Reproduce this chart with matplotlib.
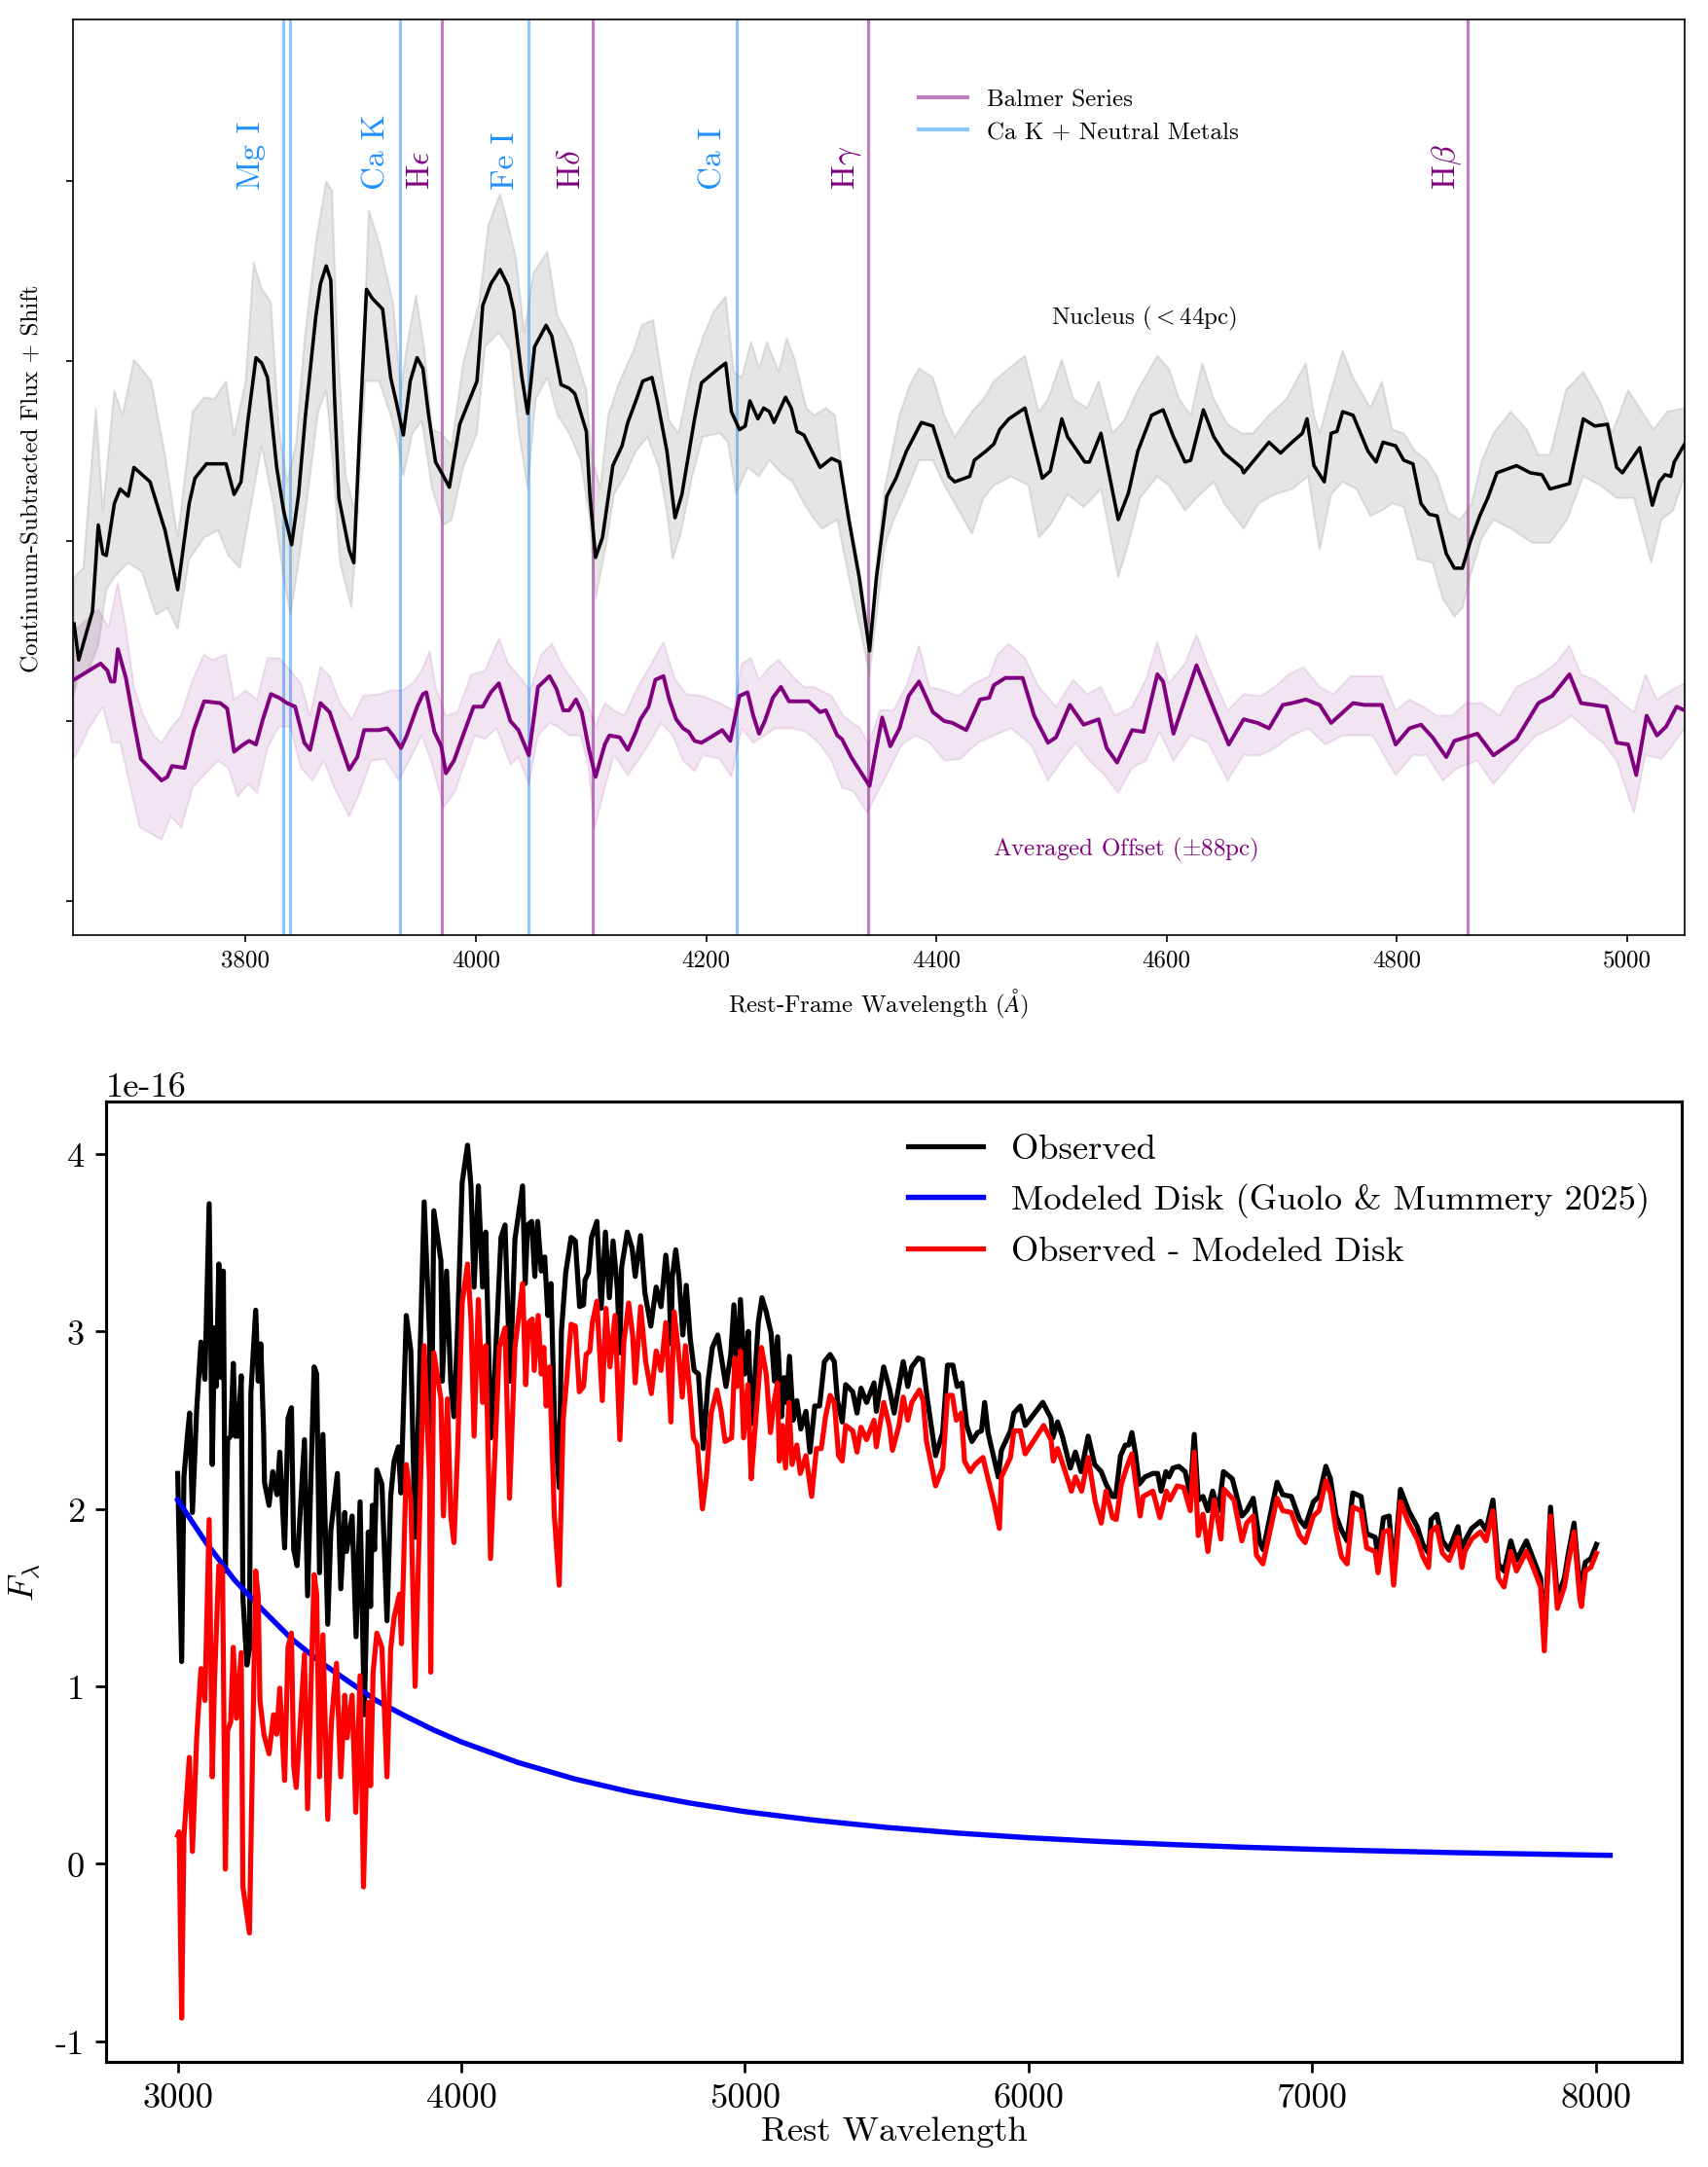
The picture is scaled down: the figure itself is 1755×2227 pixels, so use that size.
import numpy as np
import matplotlib
matplotlib.use("Agg")
import matplotlib.pyplot as plt
from matplotlib.lines import Line2D
from matplotlib.ticker import MultipleLocator

plt.rcParams["font.family"] = ["cmr10", "DejaVu Serif"]
plt.rcParams["mathtext.fontset"] = "cm"
plt.rcParams["axes.unicode_minus"] = False
plt.rcParams["axes.formatter.use_mathtext"] = False

# ---------------- top panel: stacked continuum-subtracted spectra ----------------
# (wavelength [A], flux + shift) -- arbitrary units, shift already applied
NUC_MEAN = [
    (3651, 1.54), (3655, 1.34), (3667, 1.61), (3672, 2.09), (3676, 1.93), (3679, 1.92),
    (3686, 2.21), (3691, 2.29), (3698, 2.25), (3703, 2.41), (3717, 2.33), (3730, 2.06),
    (3741, 1.73), (3751, 2.21), (3756, 2.35), (3766, 2.43), (3783, 2.43), (3790, 2.26),
    (3796, 2.33), (3802, 2.67), (3809, 3.02), (3814, 2.99), (3819, 2.91), (3827, 2.41),
    (3833, 2.17), (3840, 1.98), (3846, 2.26), (3852, 2.70), (3861, 3.25), (3865, 3.43),
    (3870, 3.53), (3874, 3.45), (3877, 2.84), (3881, 2.24), (3890, 1.95), (3894, 1.88),
    (3899, 2.60), (3905, 3.40), (3910, 3.35), (3919, 3.29), (3926, 2.91), (3931, 2.77),
    (3937, 2.59), (3943, 2.89), (3949, 3.02), (3954, 2.96), (3959, 2.70), (3965, 2.44),
    (3972, 2.36), (3977, 2.30), (3986, 2.65), (4001, 2.89), (4006, 3.31), (4013, 3.43),
    (4021, 3.51), (4028, 3.42), (4033, 3.28), (4040, 2.91), (4045, 2.71), (4051, 3.08),
    (4061, 3.20), (4066, 3.14), (4074, 2.87), (4081, 2.85), (4086, 2.82), (4096, 2.61),
    (4099, 2.26), (4104, 1.91), (4110, 2.02), (4119, 2.42), (4127, 2.53), (4132, 2.66),
    (4139, 2.78), (4145, 2.89), (4153, 2.91), (4158, 2.77), (4166, 2.50), (4173, 2.13),
    (4179, 2.26), (4190, 2.68), (4196, 2.88), (4209, 2.95), (4217, 2.99), (4222, 2.72),
    (4229, 2.62), (4234, 2.64), (4238, 2.78), (4245, 2.68), (4250, 2.74), (4255, 2.72),
    (4259, 2.66), (4269, 2.80), (4274, 2.74), (4279, 2.61), (4285, 2.59), (4299, 2.41),
    (4309, 2.46), (4316, 2.44), (4324, 2.12), (4333, 1.80), (4342, 1.39), (4348, 1.80),
    (4357, 2.25), (4365, 2.35), (4374, 2.50), (4387, 2.66), (4397, 2.64), (4411, 2.36),
    (4416, 2.33), (4429, 2.36), (4433, 2.45), (4443, 2.50), (4450, 2.54), (4455, 2.62),
    (4463, 2.68), (4477, 2.74), (4492, 2.35), (4499, 2.39), (4509, 2.68), (4514, 2.58),
    (4529, 2.44), (4533, 2.44), (4543, 2.60), (4558, 2.12), (4567, 2.27), (4575, 2.50),
    (4587, 2.70), (4597, 2.73), (4606, 2.58), (4616, 2.44), (4621, 2.45), (4632, 2.73),
    (4641, 2.58), (4650, 2.49), (4665, 2.41), (4667, 2.38), (4680, 2.48), (4689, 2.55),
    (4699, 2.49), (4709, 2.55), (4718, 2.60), (4722, 2.68), (4728, 2.42), (4737, 2.33),
    (4743, 2.60), (4748, 2.61), (4753, 2.72), (4762, 2.70), (4775, 2.50), (4782, 2.44),
    (4788, 2.55), (4799, 2.53), (4806, 2.45), (4814, 2.43), (4821, 2.21), (4828, 2.15),
    (4835, 2.14), (4843, 1.93), (4850, 1.85), (4857, 1.85), (4864, 2.00), (4872, 2.14),
    (4879, 2.24), (4887, 2.38), (4904, 2.42), (4916, 2.38), (4926, 2.37), (4933, 2.29),
    (4950, 2.32), (4962, 2.68), (4972, 2.64), (4983, 2.65), (4991, 2.41), (4996, 2.38),
    (5011, 2.52), (5022, 2.20), (5028, 2.33), (5033, 2.37), (5038, 2.36), (5041, 2.44),
    (5050, 2.54),
]
NUC_HI = [
    (3651, 1.80), (3659, 1.85), (3670, 2.74), (3676, 2.17), (3686, 2.84), (3693, 2.70),
    (3703, 3.01), (3718, 2.89), (3730, 2.48), (3741, 2.02), (3754, 2.72), (3764, 2.80),
    (3773, 2.79), (3783, 2.89), (3790, 2.59), (3800, 2.89), (3807, 3.55), (3814, 3.40),
    (3822, 3.33), (3829, 2.62), (3836, 2.33), (3844, 2.55), (3851, 3.11), (3861, 3.66),
    (3870, 4.00), (3875, 3.95), (3880, 3.08), (3887, 2.36), (3897, 2.12), (3907, 3.84),
    (3916, 3.66), (3928, 3.33), (3935, 2.84), (3940, 3.08), (3948, 3.37), (3955, 3.08),
    (3962, 2.62), (3970, 2.60), (3979, 2.53), (3989, 2.99), (4003, 3.33), (4011, 3.76),
    (4021, 3.93), (4028, 3.76), (4035, 3.57), (4042, 3.16), (4050, 3.49), (4062, 3.61),
    (4071, 3.25), (4083, 3.11), (4096, 2.84), (4100, 2.50), (4108, 2.29), (4115, 2.70),
    (4125, 2.89), (4137, 3.06), (4144, 3.20), (4154, 3.23), (4161, 2.94), (4168, 2.67),
    (4176, 2.60), (4188, 2.96), (4197, 3.13), (4207, 3.28), (4217, 3.36), (4224, 2.94),
    (4231, 2.91), (4239, 3.11), (4246, 2.96), (4253, 3.11), (4263, 2.94), (4270, 3.13),
    (4277, 3.01), (4287, 2.74), (4294, 2.70), (4304, 2.74), (4312, 2.70), (4321, 2.26),
    (4331, 1.92), (4338, 1.63), (4343, 1.54), (4348, 1.87), (4355, 2.29), (4368, 2.70),
    (4377, 2.87), (4385, 2.96), (4397, 2.91), (4407, 2.70), (4416, 2.58), (4431, 2.72),
    (4441, 2.79), (4450, 2.89), (4463, 2.96), (4477, 3.03), (4489, 2.72), (4497, 2.79),
    (4509, 3.01), (4519, 2.79), (4531, 2.74), (4541, 2.89), (4553, 2.60), (4563, 2.67),
    (4575, 2.84), (4592, 3.03), (4602, 2.96), (4611, 2.79), (4621, 2.70), (4631, 2.99),
    (4641, 2.79), (4653, 2.65), (4665, 2.60), (4675, 2.60), (4689, 2.70), (4704, 2.79),
    (4721, 2.99), (4728, 2.70), (4733, 2.60), (4743, 2.84), (4753, 3.06), (4762, 2.91),
    (4777, 2.74), (4787, 2.89), (4796, 2.62), (4806, 2.60), (4816, 2.50), (4826, 2.45),
    (4835, 2.36), (4845, 2.16), (4855, 2.12), (4865, 2.21), (4874, 2.45), (4884, 2.60),
    (4899, 2.72), (4913, 2.62), (4923, 2.48), (4933, 2.48), (4947, 2.84), (4962, 2.94),
    (4977, 2.77), (4987, 2.60), (5001, 2.84), (5013, 2.72), (5023, 2.62), (5035, 2.72),
    (5050, 2.74),
]
NUC_LO = [
    (3651, 1.15), (3655, 1.25), (3664, 1.29), (3672, 1.42), (3679, 1.73), (3686, 1.80),
    (3698, 1.88), (3710, 1.83), (3722, 1.59), (3732, 1.63), (3741, 1.51), (3751, 1.90),
    (3764, 2.02), (3776, 2.06), (3785, 1.92), (3795, 1.85), (3805, 2.21), (3814, 2.53),
    (3824, 2.21), (3833, 1.80), (3839, 1.59), (3846, 1.88), (3853, 2.21), (3863, 2.72),
    (3870, 2.84), (3876, 2.41), (3882, 1.88), (3892, 1.63), (3897, 2.12), (3904, 2.89),
    (3916, 2.89), (3926, 2.70), (3932, 2.55), (3937, 2.36), (3945, 2.60), (3953, 2.67),
    (3962, 2.29), (3972, 2.09), (3979, 2.12), (3989, 2.41), (4001, 2.60), (4008, 3.08),
    (4020, 3.16), (4030, 3.06), (4037, 2.62), (4045, 2.29), (4052, 2.79), (4062, 2.91),
    (4071, 2.70), (4081, 2.60), (4091, 2.45), (4099, 2.12), (4104, 1.68), (4113, 1.97),
    (4120, 2.26), (4129, 2.36), (4139, 2.50), (4149, 2.58), (4159, 2.41), (4166, 2.16),
    (4171, 1.90), (4178, 2.04), (4188, 2.36), (4197, 2.58), (4212, 2.60), (4219, 2.55),
    (4226, 2.26), (4236, 2.41), (4246, 2.36), (4255, 2.45), (4265, 2.38), (4275, 2.33),
    (4285, 2.21), (4294, 2.12), (4301, 2.07), (4314, 2.12), (4324, 1.80), (4334, 1.51),
    (4342, 1.25), (4348, 1.59), (4355, 1.97), (4363, 2.12), (4373, 2.26), (4385, 2.45),
    (4397, 2.45), (4407, 2.31), (4416, 2.21), (4431, 2.04), (4441, 2.24), (4450, 2.31),
    (4465, 2.36), (4480, 2.31), (4489, 2.02), (4499, 2.09), (4514, 2.26), (4528, 2.19),
    (4543, 2.29), (4558, 1.80), (4567, 1.99), (4577, 2.24), (4592, 2.36), (4602, 2.31),
    (4616, 2.17), (4626, 2.24), (4641, 2.33), (4650, 2.21), (4667, 2.07), (4680, 2.21),
    (4694, 2.26), (4709, 2.29), (4723, 2.36), (4733, 1.95), (4743, 2.26), (4753, 2.33),
    (4765, 2.29), (4777, 2.14), (4787, 2.17), (4796, 2.21), (4806, 2.19), (4818, 1.90),
    (4831, 1.88), (4840, 1.68), (4850, 1.58), (4857, 1.63), (4865, 1.83), (4874, 2.02),
    (4884, 2.12), (4899, 2.07), (4918, 1.99), (4933, 1.99), (4948, 2.12), (4962, 2.36),
    (4977, 2.31), (4991, 2.24), (5006, 2.24), (5021, 1.88), (5030, 2.12), (5040, 2.17),
    (5050, 2.36),
]
OFF_MEAN = [
    (3651, 1.23), (3674, 1.32), (3680, 1.28), (3683, 1.22), (3686, 1.22), (3689, 1.40),
    (3696, 1.24), (3703, 0.99), (3709, 0.79), (3718, 0.73), (3727, 0.67), (3732, 0.69),
    (3736, 0.75), (3747, 0.74), (3755, 0.95), (3764, 1.11), (3778, 1.10), (3784, 1.07),
    (3790, 0.83), (3798, 0.87), (3803, 0.89), (3809, 0.87), (3815, 1.01), (3822, 1.15),
    (3829, 1.13), (3836, 1.10), (3843, 1.08), (3851, 0.88), (3856, 0.84), (3865, 1.10),
    (3873, 1.05), (3890, 0.73), (3897, 0.80), (3903, 0.95), (3916, 0.95), (3923, 0.96),
    (3928, 0.92), (3935, 0.85), (3940, 0.92), (3949, 1.08), (3954, 1.15), (3957, 1.16),
    (3964, 0.94), (3970, 0.86), (3974, 0.71), (3981, 0.78), (3986, 0.87), (3994, 1.01),
    (3998, 1.08), (4006, 1.08), (4013, 1.16), (4020, 1.21), (4030, 1.00), (4037, 0.95),
    (4046, 0.81), (4054, 1.19), (4064, 1.25), (4070, 1.18), (4076, 1.06), (4081, 1.06),
    (4087, 1.12), (4092, 1.05), (4098, 0.85), (4104, 0.69), (4112, 0.87), (4116, 0.92),
    (4125, 0.91), (4132, 0.84), (4139, 0.94), (4143, 1.01), (4150, 1.08), (4156, 1.23),
    (4163, 1.25), (4168, 1.12), (4174, 1.01), (4180, 0.96), (4185, 0.94), (4190, 0.89),
    (4196, 0.88), (4204, 0.91), (4214, 0.95), (4221, 0.89), (4229, 1.14), (4236, 1.16),
    (4241, 1.03), (4246, 0.93), (4251, 1.00), (4258, 1.13), (4265, 1.19), (4272, 1.11),
    (4282, 1.11), (4289, 1.11), (4299, 1.05), (4304, 1.06), (4314, 0.92), (4318, 0.90),
    (4326, 0.80), (4337, 0.69), (4342, 0.64), (4348, 0.85), (4353, 1.02), (4360, 0.86),
    (4368, 0.96), (4376, 1.14), (4385, 1.22), (4397, 1.05), (4407, 1.00), (4414, 0.99),
    (4426, 0.95), (4438, 1.12), (4446, 1.13), (4450, 1.20), (4460, 1.24), (4475, 1.24),
    (4485, 1.03), (4497, 0.88), (4504, 0.91), (4516, 1.09), (4528, 0.98), (4541, 1.01),
    (4548, 0.85), (4557, 0.77), (4570, 0.95), (4580, 0.94), (4592, 1.26), (4597, 1.22),
    (4606, 0.93), (4626, 1.31), (4641, 1.07), (4654, 0.87), (4667, 1.01), (4679, 0.99),
    (4689, 0.96), (4701, 1.09), (4709, 1.10), (4721, 1.12), (4733, 1.09), (4743, 0.99),
    (4762, 1.10), (4772, 1.09), (4787, 1.09), (4799, 0.87), (4811, 0.96), (4821, 0.98),
    (4831, 0.91), (4843, 0.80), (4850, 0.89), (4870, 0.93), (4884, 0.81), (4904, 0.90),
    (4923, 1.10), (4935, 1.14), (4950, 1.26), (4960, 1.10), (4982, 1.08), (4991, 0.88),
    (5001, 0.87), (5008, 0.70), (5017, 1.03), (5026, 0.92), (5034, 0.97), (5043, 1.08),
    (5050, 1.06),
]
OFF_HI = [
    (3651, 1.50), (3672, 1.62), (3681, 1.52), (3689, 1.77), (3696, 1.52), (3703, 1.19),
    (3710, 1.05), (3720, 0.92), (3727, 0.88), (3735, 0.96), (3744, 1.03), (3754, 1.23),
    (3764, 1.37), (3771, 1.34), (3783, 1.37), (3790, 1.12), (3800, 1.17), (3810, 1.12),
    (3819, 1.35), (3829, 1.35), (3839, 1.28), (3848, 1.21), (3856, 1.03), (3865, 1.30),
    (3873, 1.25), (3882, 1.10), (3892, 1.01), (3902, 1.14), (3916, 1.15), (3926, 1.17),
    (3936, 1.17), (3945, 1.21), (3953, 1.28), (3960, 1.39), (3965, 1.19), (3974, 1.03),
    (3984, 1.05), (3996, 1.26), (4008, 1.28), (4020, 1.46), (4028, 1.32), (4040, 1.23),
    (4047, 1.17), (4057, 1.37), (4066, 1.43), (4076, 1.30), (4086, 1.21), (4096, 1.12),
    (4104, 0.97), (4112, 1.10), (4120, 1.06), (4129, 1.03), (4139, 1.17), (4149, 1.28),
    (4163, 1.44), (4173, 1.23), (4183, 1.15), (4197, 1.14), (4212, 1.10), (4224, 1.06),
    (4231, 1.32), (4239, 1.35), (4246, 1.23), (4255, 1.30), (4263, 1.34), (4275, 1.25),
    (4285, 1.19), (4294, 1.19), (4309, 1.14), (4319, 1.03), (4334, 0.96), (4341, 0.87),
    (4351, 1.06), (4363, 1.06), (4375, 1.21), (4385, 1.42), (4394, 1.19), (4407, 1.17),
    (4419, 1.14), (4433, 1.21), (4446, 1.25), (4453, 1.37), (4463, 1.43), (4477, 1.35),
    (4489, 1.19), (4504, 1.08), (4519, 1.23), (4531, 1.15), (4543, 1.19), (4555, 1.03),
    (4570, 1.08), (4582, 1.23), (4592, 1.44), (4602, 1.21), (4616, 1.32), (4626, 1.48),
    (4638, 1.28), (4653, 1.06), (4667, 1.15), (4682, 1.14), (4694, 1.19), (4706, 1.26),
    (4719, 1.30), (4733, 1.19), (4745, 1.15), (4760, 1.25), (4772, 1.25), (4787, 1.25),
    (4799, 1.06), (4811, 1.12), (4823, 1.08), (4835, 1.03), (4848, 1.03), (4860, 1.10),
    (4874, 1.10), (4889, 1.03), (4904, 1.19), (4923, 1.25), (4938, 1.32), (4950, 1.42),
    (4960, 1.26), (4972, 1.23), (4984, 1.17), (4996, 1.10), (5006, 1.05), (5016, 1.26),
    (5026, 1.12), (5038, 1.17), (5050, 1.21),
]
OFF_LO = [
    (3651, 0.79), (3664, 0.96), (3676, 1.08), (3684, 0.88), (3691, 0.88), (3701, 0.60),
    (3708, 0.41), (3727, 0.34), (3735, 0.47), (3744, 0.41), (3754, 0.63), (3764, 0.70),
    (3776, 0.78), (3785, 0.74), (3793, 0.58), (3802, 0.65), (3810, 0.60), (3819, 0.85),
    (3829, 0.97), (3839, 0.97), (3848, 0.74), (3858, 0.67), (3868, 0.78), (3877, 0.63),
    (3890, 0.47), (3899, 0.60), (3909, 0.78), (3921, 0.79), (3933, 0.67), (3943, 0.79),
    (3953, 0.92), (3962, 0.76), (3972, 0.52), (3982, 0.61), (3989, 0.74), (3999, 0.92),
    (4008, 0.90), (4018, 0.96), (4030, 0.76), (4037, 0.80), (4046, 0.65), (4054, 0.92),
    (4064, 0.99), (4071, 0.97), (4081, 0.92), (4091, 0.92), (4098, 0.74), (4103, 0.40),
    (4112, 0.63), (4120, 0.81), (4132, 0.70), (4142, 0.79), (4151, 0.88), (4161, 0.99),
    (4171, 0.92), (4180, 0.78), (4190, 0.72), (4197, 0.81), (4212, 0.79), (4222, 0.69),
    (4231, 0.96), (4241, 0.88), (4251, 0.92), (4260, 0.96), (4275, 0.96), (4287, 0.94),
    (4299, 0.87), (4309, 0.78), (4318, 0.63), (4328, 0.61), (4340, 0.49), (4351, 0.63),
    (4360, 0.74), (4370, 0.87), (4382, 0.92), (4394, 0.88), (4407, 0.78), (4421, 0.79),
    (4436, 0.88), (4450, 0.92), (4465, 0.96), (4482, 0.87), (4497, 0.67), (4509, 0.78),
    (4521, 0.88), (4533, 0.78), (4546, 0.70), (4558, 0.60), (4570, 0.74), (4582, 0.78),
    (4594, 0.94), (4606, 0.78), (4621, 0.92), (4636, 0.88), (4653, 0.67), (4667, 0.81),
    (4682, 0.81), (4694, 0.85), (4709, 0.92), (4723, 0.96), (4738, 0.87), (4753, 0.92),
    (4765, 0.92), (4779, 0.92), (4799, 0.70), (4814, 0.81), (4826, 0.81), (4840, 0.67),
    (4853, 0.74), (4870, 0.78), (4884, 0.65), (4901, 0.78), (4921, 0.92), (4938, 0.97),
    (4952, 1.03), (4967, 0.94), (4979, 0.88), (4991, 0.78), (5006, 0.49), (5016, 0.81),
    (5030, 0.79), (5040, 0.87), (5050, 0.96),
]

BALMER_LINES = [(r"H$\epsilon$", 3970.1), (r"H$\delta$", 4101.7),
                (r"H$\gamma$", 4340.5), (r"H$\beta$", 4861.3)]
METAL_LINES = [("Mg I", 3832.3), ("", 3838.3), ("Ca K", 3933.7),
               ("Fe I", 4045.8), ("Ca I", 4226.7)]

# ---------------- bottom panel: observed spectrum vs disk model ----------------
FLUX_UNIT = 1e-16
OBS = [
    (3000, 2.20), (3014, 1.14), (3022, 2.18), (3033, 2.39), (3042, 2.54), (3052, 1.98),
    (3067, 2.56), (3082, 2.94), (3096, 2.73), (3111, 3.72), (3122, 2.25), (3130, 3.02),
    (3136, 2.69), (3145, 3.38), (3153, 2.74), (3161, 3.34), (3168, 1.65), (3176, 2.39),
    (3187, 2.41), (3196, 2.82), (3204, 2.41), (3212, 2.41), (3224, 2.75), (3230, 1.50),
    (3244, 1.12), (3253, 1.21), (3258, 2.65), (3275, 3.12), (3284, 2.72), (3293, 2.93),
    (3303, 2.43), (3306, 2.15), (3322, 2.02), (3335, 2.21), (3350, 2.08), (3360, 2.32),
    (3377, 1.78), (3389, 2.51), (3401, 2.57), (3409, 1.77), (3421, 1.68), (3447, 2.39),
    (3458, 1.51), (3481, 2.80), (3490, 2.76), (3500, 1.64), (3512, 2.42), (3529, 1.35),
    (3540, 1.88), (3563, 2.20), (3575, 1.55), (3589, 1.98), (3595, 1.76), (3615, 1.96),
    (3629, 1.28), (3643, 2.04), (3658, 0.84), (3672, 1.87), (3680, 1.45), (3686, 2.02),
    (3694, 1.77), (3702, 2.22), (3720, 2.14), (3738, 1.37), (3751, 2.07), (3763, 2.27),
    (3778, 2.35), (3787, 2.09), (3806, 3.09), (3822, 2.89), (3837, 1.84), (3869, 3.73),
    (3888, 2.98), (3892, 1.90), (3903, 3.68), (3928, 3.40), (3933, 2.72), (3948, 3.34),
    (3963, 2.70), (3974, 2.52), (3986, 2.98), (4003, 3.84), (4022, 4.05), (4034, 3.82),
    (4045, 3.25), (4060, 3.82), (4075, 3.25), (4086, 3.56), (4104, 2.40), (4111, 2.54),
    (4140, 3.53), (4154, 3.60), (4172, 2.72), (4189, 3.52), (4216, 3.82), (4225, 3.27),
    (4234, 3.60), (4248, 3.62), (4259, 3.31), (4269, 3.62), (4282, 3.34), (4294, 3.42),
    (4305, 3.09), (4316, 3.27), (4328, 2.52), (4345, 2.12), (4353, 3.00), (4368, 3.33),
    (4387, 3.53), (4402, 3.51), (4417, 3.14), (4431, 3.15), (4436, 3.29), (4448, 3.33),
    (4459, 3.53), (4478, 3.62), (4493, 3.13), (4508, 3.56), (4522, 3.19), (4535, 3.51),
    (4550, 3.24), (4559, 2.88), (4565, 3.36), (4585, 3.56), (4602, 3.47), (4613, 3.31),
    (4632, 3.54), (4647, 3.22), (4668, 3.03), (4687, 3.25), (4704, 3.14), (4721, 3.43),
    (4733, 3.23), (4739, 2.93), (4744, 3.31), (4756, 3.46), (4767, 3.31), (4781, 2.98),
    (4793, 3.26), (4807, 2.96), (4821, 2.78), (4836, 2.76), (4853, 2.34), (4870, 2.72),
    (4885, 2.91), (4904, 2.98), (4915, 2.87), (4933, 2.69), (4950, 2.87), (4961, 3.15),
    (4972, 2.74), (4984, 3.18), (4999, 2.76), (5012, 3.00), (5022, 2.48), (5033, 2.69),
    (5047, 3.05), (5060, 3.19), (5075, 3.11), (5092, 2.99), (5104, 2.72), (5115, 2.97),
    (5129, 2.52), (5138, 2.74), (5147, 2.60), (5157, 2.86), (5170, 2.50), (5183, 2.61),
    (5197, 2.45), (5215, 2.55), (5229, 2.32), (5246, 2.58), (5263, 2.58), (5280, 2.83),
    (5300, 2.87), (5315, 2.83), (5326, 2.61), (5343, 2.49), (5355, 2.70), (5380, 2.66),
    (5395, 2.54), (5409, 2.68), (5429, 2.60), (5455, 2.71), (5463, 2.55), (5489, 2.80),
    (5509, 2.68), (5526, 2.54), (5539, 2.66), (5558, 2.83), (5574, 2.69), (5588, 2.80),
    (5611, 2.85), (5626, 2.84), (5642, 2.63), (5672, 2.30), (5697, 2.43), (5714, 2.81),
    (5733, 2.81), (5748, 2.69), (5765, 2.71), (5782, 2.47), (5800, 2.38), (5820, 2.43),
    (5834, 2.44), (5845, 2.60), (5857, 2.43), (5893, 2.18), (5904, 2.33), (5936, 2.44),
    (5948, 2.54), (5971, 2.58), (5988, 2.47), (6050, 2.60), (6079, 2.51), (6085, 2.40),
    (6102, 2.49), (6119, 2.41), (6147, 2.23), (6165, 2.32), (6185, 2.21), (6210, 2.41),
    (6233, 2.25), (6256, 2.21), (6273, 2.14), (6296, 2.07), (6307, 2.07), (6324, 2.30),
    (6341, 2.36), (6353, 2.36), (6364, 2.43), (6376, 2.32), (6390, 2.14), (6410, 2.18),
    (6438, 2.20), (6455, 2.20), (6467, 2.10), (6484, 2.21), (6495, 2.18), (6509, 2.23),
    (6530, 2.24), (6552, 2.21), (6570, 2.08), (6584, 2.42), (6598, 2.05), (6615, 2.07),
    (6632, 1.99), (6649, 2.10), (6669, 1.99), (6687, 2.21), (6718, 2.17), (6752, 1.96),
    (6769, 1.99), (6792, 2.06), (6815, 1.81), (6827, 1.77), (6876, 2.15), (6896, 2.08),
    (6926, 2.07), (6955, 1.94), (6975, 1.90), (7004, 2.04), (7024, 2.07), (7048, 2.24),
    (7064, 2.17), (7084, 1.96), (7103, 1.88), (7123, 1.82), (7143, 2.09), (7172, 2.07),
    (7192, 1.86), (7222, 1.84), (7232, 1.72), (7251, 1.95), (7271, 1.96), (7287, 1.64),
    (7311, 2.11), (7340, 1.99), (7370, 1.90), (7390, 1.80), (7410, 1.75), (7419, 1.94),
    (7439, 1.97), (7459, 1.82), (7482, 1.77), (7514, 1.90), (7528, 1.74), (7538, 1.82),
    (7562, 1.89), (7593, 1.93), (7613, 1.88), (7637, 2.05), (7656, 1.69), (7676, 1.65),
    (7700, 1.82), (7720, 1.71), (7739, 1.77), (7755, 1.82), (7779, 1.72), (7805, 1.61),
    (7818, 1.26), (7840, 2.01), (7864, 1.50), (7889, 1.61), (7903, 1.75), (7923, 1.92),
    (7943, 1.55), (7963, 1.70), (7982, 1.72), (8002, 1.80),
]
RESIDUAL = [
    (3000, 0.16), (3005, 0.18), (3014, -0.87), (3022, 0.15), (3041, 0.60), (3052, 0.07),
    (3067, 0.71), (3082, 1.10), (3096, 0.92), (3111, 1.94), (3122, 0.49), (3130, 1.04),
    (3145, 1.68), (3158, 1.66), (3168, -0.03), (3176, 0.75), (3187, 0.80), (3196, 1.22),
    (3207, 0.82), (3224, 1.19), (3230, -0.13), (3253, -0.39), (3275, 1.65), (3284, 1.50),
    (3290, 0.92), (3304, 0.73), (3322, 0.62), (3338, 0.84), (3349, 0.73), (3360, 0.99),
    (3377, 0.47), (3389, 1.22), (3401, 1.30), (3409, 0.55), (3418, 0.43), (3447, 1.18),
    (3458, 0.31), (3481, 1.63), (3490, 1.52), (3500, 0.49), (3512, 1.29), (3529, 0.25),
    (3542, 0.80), (3560, 1.13), (3575, 0.49), (3589, 0.95), (3597, 0.71), (3615, 0.95),
    (3628, 0.29), (3643, 1.06), (3655, -0.13), (3672, 0.91), (3680, 0.44), (3689, 1.08),
    (3702, 1.30), (3720, 1.22), (3738, 0.49), (3751, 1.21), (3763, 1.39), (3782, 1.52),
    (3789, 1.24), (3806, 2.25), (3822, 2.05), (3837, 1.00), (3869, 2.92), (3888, 2.16),
    (3892, 1.08), (3903, 2.88), (3928, 2.62), (3937, 1.96), (3951, 2.62), (3963, 1.96),
    (3974, 1.81), (3986, 2.29), (4003, 3.16), (4022, 3.38), (4034, 3.07), (4045, 2.41),
    (4060, 3.18), (4075, 2.60), (4086, 2.92), (4103, 1.72), (4134, 2.91), (4154, 3.02),
    (4170, 2.06), (4189, 2.91), (4216, 3.27), (4227, 2.70), (4237, 3.05), (4250, 3.07),
    (4257, 2.78), (4271, 3.09), (4282, 2.76), (4291, 2.91), (4299, 2.58), (4311, 2.80),
    (4328, 1.96), (4345, 1.57), (4359, 2.50), (4371, 2.72), (4387, 3.04), (4402, 3.03),
    (4416, 2.66), (4431, 2.69), (4440, 2.87), (4453, 2.89), (4462, 3.05), (4478, 3.17),
    (4497, 2.61), (4510, 3.13), (4524, 2.80), (4542, 3.09), (4559, 2.39), (4573, 2.94),
    (4590, 3.16), (4604, 2.98), (4613, 2.71), (4632, 3.14), (4650, 2.83), (4670, 2.65),
    (4687, 2.89), (4704, 2.78), (4721, 3.05), (4739, 2.49), (4750, 3.11), (4764, 2.91),
    (4779, 2.63), (4790, 2.92), (4807, 2.63), (4818, 2.40), (4832, 2.36), (4850, 2.00),
    (4864, 2.18), (4881, 2.54), (4901, 2.67), (4915, 2.56), (4930, 2.38), (4953, 2.40),
    (4964, 2.85), (4972, 2.69), (4984, 2.89), (4995, 2.40), (5010, 2.70), (5022, 2.17),
    (5033, 2.40), (5058, 2.91), (5075, 2.76), (5090, 2.43), (5102, 2.60), (5115, 2.71),
    (5121, 2.27), (5132, 2.47), (5143, 2.23), (5155, 2.60), (5166, 2.25), (5183, 2.36),
    (5195, 2.20), (5215, 2.30), (5235, 2.07), (5252, 2.34), (5269, 2.34), (5284, 2.52),
    (5300, 2.64), (5315, 2.60), (5330, 2.30), (5343, 2.27), (5355, 2.47), (5380, 2.44),
    (5395, 2.32), (5409, 2.46), (5429, 2.39), (5455, 2.50), (5463, 2.35), (5489, 2.60),
    (5509, 2.47), (5520, 2.33), (5543, 2.47), (5558, 2.63), (5574, 2.50), (5588, 2.60),
    (5615, 2.67), (5628, 2.61), (5640, 2.38), (5657, 2.25), (5672, 2.13), (5697, 2.23),
    (5714, 2.64), (5731, 2.64), (5745, 2.50), (5763, 2.54), (5774, 2.27), (5794, 2.21),
    (5811, 2.25), (5839, 2.29), (5854, 2.19), (5879, 2.03), (5897, 1.89), (5904, 2.18),
    (5936, 2.29), (5948, 2.44), (5971, 2.44), (5988, 2.31), (6053, 2.47), (6079, 2.39),
    (6087, 2.27), (6102, 2.34), (6121, 2.25), (6151, 2.10), (6165, 2.18), (6187, 2.10),
    (6210, 2.29), (6235, 2.04), (6256, 1.92), (6273, 2.10), (6296, 1.95), (6309, 1.94),
    (6327, 2.14), (6347, 2.24), (6364, 2.31), (6381, 2.10), (6393, 1.96), (6404, 2.07),
    (6438, 2.10), (6463, 1.95), (6486, 2.10), (6498, 2.05), (6524, 2.13), (6547, 2.12),
    (6570, 1.99), (6584, 2.32), (6598, 1.85), (6615, 1.97), (6632, 1.76), (6655, 2.05),
    (6678, 1.83), (6689, 2.11), (6724, 2.05), (6752, 1.82), (6769, 1.92), (6792, 1.96),
    (6803, 1.74), (6826, 1.69), (6876, 2.06), (6896, 1.99), (6926, 1.98), (6955, 1.85),
    (6975, 1.81), (7004, 1.96), (7024, 1.99), (7048, 2.16), (7064, 2.09), (7084, 1.88),
    (7103, 1.73), (7123, 1.69), (7143, 2.01), (7172, 1.99), (7192, 1.78), (7222, 1.76),
    (7232, 1.64), (7251, 1.87), (7271, 1.88), (7287, 1.57), (7311, 2.04), (7340, 1.92),
    (7370, 1.83), (7390, 1.73), (7410, 1.67), (7419, 1.87), (7439, 1.90), (7459, 1.75),
    (7482, 1.71), (7514, 1.84), (7528, 1.67), (7538, 1.76), (7562, 1.83), (7593, 1.87),
    (7613, 1.82), (7637, 1.99), (7656, 1.61), (7676, 1.56), (7700, 1.76), (7720, 1.65),
    (7739, 1.71), (7755, 1.76), (7779, 1.67), (7805, 1.56), (7818, 1.20), (7840, 1.96),
    (7864, 1.44), (7889, 1.56), (7903, 1.70), (7923, 1.87), (7943, 1.50), (7949, 1.45),
    (7963, 1.65), (7982, 1.67), (8002, 1.75),
]
DISK_WL = [3000, 3100, 3200, 3300, 3400, 3500, 3600, 3700, 3800, 3900, 4000, 4200, 4400,
           4600, 4800, 5000, 5250, 5500, 5750, 6000, 6250, 6500, 6750, 7000, 7250, 7500,
           7750, 8000, 8050]
DISK_FLUX = [2.05, 1.81, 1.60, 1.43, 1.27, 1.14, 1.03, 0.92, 0.835, 0.756, 0.687, 0.571,
             0.478, 0.404, 0.344, 0.294, 0.245, 0.205, 0.173, 0.147, 0.126, 0.109, 0.094,
             0.082, 0.072, 0.063, 0.056, 0.049, 0.048]


def band(ax, hi, lo, **kw):
    hi = np.array(hi)
    lo = np.array(lo)[::-1]
    ax.fill(np.r_[hi[:, 0], lo[:, 0]], np.r_[hi[:, 1], lo[:, 1]], **kw)


fig = plt.figure(figsize=(11.7, 14.853), dpi=150)

# ---------- top ----------
ax1 = fig.add_axes([0.0427, 0.5682, 0.9436, 0.4224])
balmer_c, metal_c = "purple", "dodgerblue"
label_shift = {"Mg I": -27}

for name, wl in BALMER_LINES:
    ax1.axvline(wl, color=balmer_c, alpha=0.5, lw=1.5, zorder=1)
    ax1.text(wl - 18, 3.96, name, rotation=90, ha="center", va="bottom",
             color=balmer_c, fontsize=16)
for name, wl in METAL_LINES:
    ax1.axvline(wl, color=metal_c, alpha=0.5, lw=1.5, zorder=1)
    if name:
        ax1.text(wl + label_shift.get(name, -20), 3.96, name, rotation=90,
                 ha="center", va="bottom", color=metal_c, fontsize=16)

band(ax1, NUC_HI, NUC_LO, color="gray", alpha=0.2, lw=1.0, zorder=2)
band(ax1, OFF_HI, OFF_LO, color="purple", alpha=0.1, lw=1.0, zorder=2)
nuc = np.array(NUC_MEAN)
off = np.array(OFF_MEAN)
ax1.plot(nuc[:, 0], nuc[:, 1], color="black", lw=1.7, zorder=3)
ax1.plot(off[:, 0], off[:, 1], color="purple", lw=1.9, zorder=3)

ax1.text(4580, 3.24, r"Nucleus ($<44$pc)", ha="center", va="center", fontsize=12)
ax1.text(4564, 0.29, r"Averaged Offset ($\pm$88pc)", ha="center", va="center",
         fontsize=12, color="purple")

handles = [Line2D([], [], color=balmer_c, alpha=0.5, lw=2),
           Line2D([], [], color=metal_c, alpha=0.5, lw=2)]
ax1.legend(handles, ["Balmer Series", "Ca K + Neutral Metals"], loc="upper left",
           bbox_to_anchor=(0.511, 0.948), frameon=False, fontsize=12, labelspacing=0.4)

ax1.set_xlim(3650, 5050)
ax1.set_ylim(-0.19, 4.9)
ax1.xaxis.set_major_locator(MultipleLocator(200))
ax1.set_yticks([0, 1, 2, 3, 4])
ax1.set_yticklabels([])
ax1.tick_params(labelsize=12, length=3.5, width=0.8)
for s in ax1.spines.values():
    s.set_linewidth(0.8)
ax1.set_xlabel(r"Rest-Frame Wavelength ($\AA$)", fontsize=12, labelpad=8)
ax1.set_ylabel("Continuum-Subtracted Flux + Shift", fontsize=12, labelpad=8)

# ---------- bottom ----------
ax2 = fig.add_axes([0.0621, 0.0485, 0.9225, 0.4430])
obs = np.array(OBS)
res = np.array(RESIDUAL)
ax2.plot(obs[:, 0], obs[:, 1] * FLUX_UNIT, color="black", lw=2.5, label="Observed")
ax2.plot(DISK_WL, np.array(DISK_FLUX) * FLUX_UNIT, color="blue", lw=2.6,
         label="Modeled Disk (Guolo & Mummery 2025)")
ax2.plot(res[:, 0], res[:, 1] * FLUX_UNIT, color="red", lw=2.5,
         label="Observed - Modeled Disk")
ax2.legend(loc="upper right", frameon=False, fontsize=17.5, handlelength=2.1)
ax2.tick_params(labelsize=17.5, length=5.5, width=1.3, pad=5)
for s in ax2.spines.values():
    s.set_linewidth(1.5)
ax2.yaxis.get_offset_text().set_fontsize(17.5)
ax2.set_xlabel("Rest Wavelength", fontsize=17.5, labelpad=1)
ax2.set_ylabel(r"$F_\lambda$", fontsize=17.5, labelpad=6)

fig.savefig("out.png", dpi=150)
